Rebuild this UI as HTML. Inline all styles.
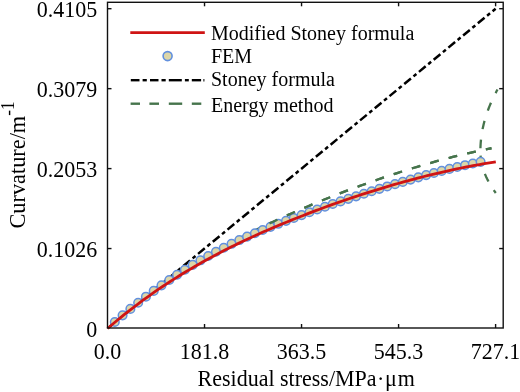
<!DOCTYPE html>
<html><head><meta charset="utf-8"><style>html,body{margin:0;padding:0;background:#fff;width:520px;height:392px;overflow:hidden}svg{display:block}</style></head><body>
<svg width="520" height="392" viewBox="0 0 520 392">
<rect width="520" height="392" fill="#fff"/>
<g fill="none" stroke-linejoin="round">
<line x1="107.5" y1="328.5" x2="495.6" y2="8.7" stroke="#000" stroke-width="2.5" stroke-dasharray="8.7 3.3 3.78 3.3" stroke-dashoffset="-2.88"/>
<polyline points="107.50,328.50 110.73,325.62 113.95,322.78 117.18,319.99 120.41,317.23 123.63,314.51 126.86,311.84 130.09,309.20 133.32,306.59 136.54,304.03 139.77,301.49 143.00,299.00 146.22,296.54 149.45,294.11 152.68,291.72 155.90,289.35 159.13,287.02 162.36,284.73 165.58,282.46 168.81,280.23 172.04,278.04 175.26,275.88 178.49,273.75 181.72,271.64 184.95,269.57 188.17,267.52 191.40,265.49 194.63,263.50 197.85,261.52 201.08,259.57 204.31,257.65 207.53,255.75 210.76,253.87 213.99,252.02 217.21,250.19 220.44,248.38 223.67,246.60 226.89,244.84 230.12,243.10 233.35,241.38 236.58,239.68 239.80,238.00 243.03,236.34 246.26,234.70 249.48,233.07 252.71,231.47 255.94,229.88 259.16,228.31 262.39,226.75 265.62,225.21 268.84,223.69 272.07,222.18 275.30,220.69 278.53,219.21 281.75,217.75 284.98,216.31 288.21,214.88 291.43,213.46 294.66,212.06 297.89,210.66 301.11,209.26 304.34,207.87 307.57,206.49 310.79,205.13 314.02,203.77 317.25,202.44 320.47,201.11 323.70,199.80 326.93,198.49 330.16,197.21 333.38,195.93 336.61,194.66 339.84,193.41 343.06,192.17 346.29,190.94 349.52,189.72 352.74,188.51 355.97,187.32 359.20,186.13 362.42,184.96 365.65,183.80 368.88,182.65 372.11,181.51 375.33,180.39 378.56,179.27 381.79,178.17 385.01,177.07 388.24,175.99 391.47,174.92 394.69,173.87 397.92,172.82 401.15,171.78 404.37,170.76 407.60,169.75 410.83,168.75 414.05,167.77 417.28,166.79 420.51,165.83 423.74,164.88 426.96,163.95 430.19,163.03 433.42,162.12 436.64,161.22 439.87,160.34 443.10,159.47 446.32,158.61 449.55,157.77 452.78,156.95 456.00,156.13 459.23,155.34 462.46,154.56 465.68,153.79 468.91,153.04 472.14,152.30 475.37,151.59 478.59,150.89 481.82,150.20 485.05,149.53 488.27,148.88 491.50,148.25" stroke="#46744C" stroke-width="2.3" stroke-dasharray="8.8 10.3" stroke-dashoffset="-2.8"/>
<polyline points="480.40,151.20 480.41,149.62 480.45,148.04 480.50,146.45 480.58,144.87 480.68,143.29 480.81,141.71 480.95,140.13 481.12,138.54 481.31,136.96 481.53,135.38 481.76,133.80 482.02,132.22 482.30,130.63 482.61,129.05 482.93,127.47 483.28,125.89 483.66,124.31 484.05,122.72 484.47,121.14 484.91,119.56 485.37,117.98 485.85,116.39 486.36,114.81 486.89,113.23 487.44,111.65 488.01,110.07 488.61,108.48 489.23,106.90 489.87,105.32 490.54,103.74 491.22,102.16 491.93,100.57 492.67,98.99 493.42,97.41 494.20,95.83 495.00,94.25 495.82,92.66 496.66,91.08 497.53,89.50" stroke="#46744C" stroke-width="2.3" stroke-dasharray="8.5 10.7" stroke-dashoffset="-3"/>
<polyline points="480.40,151.20 480.41,152.27 480.44,153.34 480.49,154.42 480.56,155.49 480.65,156.56 480.76,157.63 480.90,158.70 481.05,159.77 481.22,160.85 481.41,161.92 481.62,162.99 481.86,164.06 482.11,165.13 482.38,166.21 482.67,167.28 482.99,168.35 483.32,169.42 483.68,170.49 484.05,171.56 484.44,172.64 484.86,173.71 485.29,174.78 485.75,175.85 486.22,176.92 486.72,177.99 487.23,179.07 487.77,180.14 488.33,181.21 488.90,182.28 489.50,183.35 490.11,184.43 490.75,185.50 491.41,186.57 492.09,187.64 492.78,188.71 493.50,189.78 494.24,190.86 495.00,191.93 495.78,193.00" stroke="#46744C" stroke-width="2.3" stroke-dasharray="8.5 10.2" stroke-dashoffset="-4.5"/>
</g>
<g fill="#DCD6A8" stroke="#6290DE" stroke-width="1.5">
<circle cx="114.80" cy="322.03" r="4.3"/>
<circle cx="122.58" cy="315.36" r="4.3"/>
<circle cx="130.37" cy="308.92" r="4.3"/>
<circle cx="138.15" cy="302.70" r="4.3"/>
<circle cx="145.93" cy="296.68" r="4.3"/>
<circle cx="153.72" cy="290.91" r="4.3"/>
<circle cx="161.50" cy="285.34" r="4.3"/>
<circle cx="169.28" cy="279.96" r="4.3"/>
<circle cx="177.06" cy="274.79" r="4.3"/>
<circle cx="184.85" cy="269.78" r="4.3"/>
<circle cx="192.63" cy="264.92" r="4.3"/>
<circle cx="200.41" cy="260.31" r="4.3"/>
<circle cx="208.20" cy="255.98" r="4.3"/>
<circle cx="215.98" cy="251.78" r="4.3"/>
<circle cx="223.76" cy="247.73" r="4.3"/>
<circle cx="231.55" cy="243.81" r="4.3"/>
<circle cx="239.33" cy="240.06" r="4.3"/>
<circle cx="247.11" cy="236.61" r="4.3"/>
<circle cx="254.89" cy="233.26" r="4.3"/>
<circle cx="262.68" cy="230.02" r="4.3"/>
<circle cx="270.46" cy="226.87" r="4.3"/>
<circle cx="278.24" cy="223.81" r="4.3"/>
<circle cx="286.03" cy="220.84" r="4.3"/>
<circle cx="293.81" cy="217.96" r="4.3"/>
<circle cx="301.59" cy="215.12" r="4.3"/>
<circle cx="309.38" cy="212.30" r="4.3"/>
<circle cx="317.16" cy="209.46" r="4.3"/>
<circle cx="324.94" cy="206.70" r="4.3"/>
<circle cx="332.72" cy="204.01" r="4.3"/>
<circle cx="340.51" cy="201.39" r="4.3"/>
<circle cx="348.29" cy="198.84" r="4.3"/>
<circle cx="356.07" cy="196.36" r="4.3"/>
<circle cx="363.86" cy="193.80" r="4.3"/>
<circle cx="371.64" cy="191.28" r="4.3"/>
<circle cx="379.42" cy="188.83" r="4.3"/>
<circle cx="387.21" cy="186.44" r="4.3"/>
<circle cx="394.99" cy="184.13" r="4.3"/>
<circle cx="402.77" cy="181.88" r="4.3"/>
<circle cx="410.55" cy="179.62" r="4.3"/>
<circle cx="418.34" cy="177.33" r="4.3"/>
<circle cx="426.12" cy="175.11" r="4.3"/>
<circle cx="433.90" cy="172.96" r="4.3"/>
<circle cx="441.69" cy="170.90" r="4.3"/>
<circle cx="449.47" cy="168.91" r="4.3"/>
<circle cx="457.25" cy="167.01" r="4.3"/>
<circle cx="465.04" cy="165.19" r="4.3"/>
<circle cx="472.82" cy="163.47" r="4.3"/>
<circle cx="480.60" cy="161.84" r="4.3"/>
</g>
<clipPath id="cg"><rect x="262" y="0" width="250" height="330"/></clipPath>
<polyline points="107.50,328.50 110.73,325.62 113.95,322.78 117.18,319.99 120.41,317.23 123.63,314.51 126.86,311.84 130.09,309.20 133.32,306.59 136.54,304.03 139.77,301.49 143.00,299.00 146.22,296.54 149.45,294.11 152.68,291.72 155.90,289.35 159.13,287.02 162.36,284.73 165.58,282.46 168.81,280.23 172.04,278.04 175.26,275.88 178.49,273.75 181.72,271.64 184.95,269.57 188.17,267.52 191.40,265.49 194.63,263.50 197.85,261.52 201.08,259.57 204.31,257.65 207.53,255.75 210.76,253.87 213.99,252.02 217.21,250.19 220.44,248.38 223.67,246.60 226.89,244.84 230.12,243.10 233.35,241.38 236.58,239.68 239.80,238.00 243.03,236.34 246.26,234.70 249.48,233.07 252.71,231.47 255.94,229.88 259.16,228.31 262.39,226.75 265.62,225.21 268.84,223.69 272.07,222.18 275.30,220.69 278.53,219.21 281.75,217.75 284.98,216.31 288.21,214.88 291.43,213.46 294.66,212.06 297.89,210.66 301.11,209.26 304.34,207.87 307.57,206.49 310.79,205.13 314.02,203.77 317.25,202.44 320.47,201.11 323.70,199.80 326.93,198.49 330.16,197.21 333.38,195.93 336.61,194.66 339.84,193.41 343.06,192.17 346.29,190.94 349.52,189.72 352.74,188.51 355.97,187.32 359.20,186.13 362.42,184.96 365.65,183.80 368.88,182.65 372.11,181.51 375.33,180.39 378.56,179.27 381.79,178.17 385.01,177.07 388.24,175.99 391.47,174.92 394.69,173.87 397.92,172.82 401.15,171.78 404.37,170.76 407.60,169.75 410.83,168.75 414.05,167.77 417.28,166.79 420.51,165.83 423.74,164.88 426.96,163.95 430.19,163.03 433.42,162.12 436.64,161.22 439.87,160.34 443.10,159.47 446.32,158.61 449.55,157.77 452.78,156.95 456.00,156.13 459.23,155.34 462.46,154.56 465.68,153.79 468.91,153.04 472.14,152.30 475.37,151.59 478.59,150.89 481.82,150.20 485.05,149.53 488.27,148.88 491.50,148.25" fill="none" stroke="#46744C" stroke-width="2.3" stroke-dasharray="8.8 10.3" stroke-dashoffset="-2.8" clip-path="url(#cg)"/>
<polyline points="107.50,328.50 110.76,325.70 114.03,322.95 117.29,320.24 120.55,317.57 123.82,314.94 127.08,312.35 130.34,309.80 133.60,307.29 136.87,304.81 140.13,302.37 143.39,299.97 146.66,297.60 149.92,295.27 153.18,292.97 156.45,290.71 159.71,288.47 162.97,286.27 166.23,284.10 169.50,281.97 172.76,279.88 176.02,277.83 179.29,275.79 182.55,273.79 185.81,271.82 189.08,269.87 192.34,267.95 195.60,266.05 198.86,264.19 202.13,262.34 205.39,260.52 208.65,258.73 211.92,256.96 215.18,255.21 218.44,253.48 221.71,251.79 224.97,250.12 228.23,248.46 231.49,246.83 234.76,245.22 238.02,243.63 241.28,242.06 244.55,240.51 247.81,238.98 251.07,237.46 254.34,235.97 257.60,234.49 260.86,233.03 264.13,231.59 267.39,230.16 270.65,228.75 273.91,227.36 277.18,225.98 280.44,224.61 283.70,223.27 286.97,221.94 290.23,220.62 293.49,219.31 296.76,218.03 300.02,216.73 303.28,215.44 306.54,214.17 309.81,212.90 313.07,211.66 316.33,210.42 319.60,209.20 322.86,207.99 326.12,206.79 329.39,205.61 332.65,204.44 335.91,203.28 339.17,202.13 342.44,200.99 345.70,199.87 348.96,198.76 352.23,197.66 355.49,196.57 358.75,195.50 362.02,194.44 365.28,193.38 368.54,192.34 371.81,191.32 375.07,190.30 378.33,189.29 381.59,188.30 384.86,187.32 388.12,186.35 391.38,185.39 394.65,184.45 397.91,183.52 401.17,182.59 404.44,181.69 407.70,180.79 410.96,179.91 414.22,179.03 417.49,178.18 420.75,177.33 424.01,176.50 427.28,175.68 430.54,174.87 433.80,174.08 437.07,173.30 440.33,172.54 443.59,171.79 446.85,171.05 450.12,170.33 453.38,169.62 456.64,168.93 459.91,168.25 463.17,167.59 466.43,166.95 469.70,166.32 472.96,165.71 476.22,165.12 479.48,164.54 482.75,163.98 486.01,163.44 489.27,162.91 492.54,162.41 495.80,161.92" fill="none" stroke="#CF1414" stroke-width="2.8" stroke-linejoin="round"/>
<g stroke="#111" stroke-width="1.4" fill="none">
<rect x="107.5" y="2.3" width="395.70" height="325.70"/>
<line x1="204.53" y1="328.0" x2="204.53" y2="324.0"/>
<line x1="204.53" y1="2.3" x2="204.53" y2="6.3"/>
<line x1="301.55" y1="328.0" x2="301.55" y2="324.0"/>
<line x1="301.55" y1="2.3" x2="301.55" y2="6.3"/>
<line x1="398.58" y1="328.0" x2="398.58" y2="324.0"/>
<line x1="398.58" y1="2.3" x2="398.58" y2="6.3"/>
<line x1="495.60" y1="328.0" x2="495.60" y2="324.0"/>
<line x1="495.60" y1="2.3" x2="495.60" y2="6.3"/>
<line x1="107.5" y1="248.55" x2="111.5" y2="248.55"/>
<line x1="503.2" y1="248.55" x2="499.2" y2="248.55"/>
<line x1="107.5" y1="168.60" x2="111.5" y2="168.60"/>
<line x1="503.2" y1="168.60" x2="499.2" y2="168.60"/>
<line x1="107.5" y1="88.65" x2="111.5" y2="88.65"/>
<line x1="503.2" y1="88.65" x2="499.2" y2="88.65"/>
<line x1="107.5" y1="8.70" x2="111.5" y2="8.70"/>
<line x1="503.2" y1="8.70" x2="499.2" y2="8.70"/>
</g>
<line x1="130.3" y1="32.6" x2="204.8" y2="32.6" stroke="#CF1414" stroke-width="2.6"/>
<circle cx="167.6" cy="56.1" r="4.5" fill="#DCD6A8" stroke="#6290DE" stroke-width="1.6"/>
<line x1="130.8" y1="80.2" x2="139.5" y2="80.2" stroke="#000" stroke-width="2.4"/>
<line x1="142.6" y1="80.2" x2="146.8" y2="80.2" stroke="#000" stroke-width="2.4"/>
<line x1="150" y1="80.2" x2="158.5" y2="80.2" stroke="#000" stroke-width="2.4"/>
<line x1="161.5" y1="80.2" x2="165.7" y2="80.2" stroke="#000" stroke-width="2.4"/>
<line x1="168.8" y1="80.2" x2="181.8" y2="80.2" stroke="#000" stroke-width="2.4"/>
<line x1="184.9" y1="80.2" x2="188.8" y2="80.2" stroke="#000" stroke-width="2.4"/>
<line x1="191.8" y1="80.2" x2="201.1" y2="80.2" stroke="#000" stroke-width="2.4"/>
<line x1="203.4" y1="80.2" x2="204.4" y2="80.2" stroke="#000" stroke-width="2.4"/>
<line x1="130.6" y1="103.7" x2="140.0" y2="103.7" stroke="#46744C" stroke-width="2.4"/>
<line x1="149.4" y1="103.7" x2="159.0" y2="103.7" stroke="#46744C" stroke-width="2.4"/>
<line x1="168.8" y1="103.7" x2="182.2" y2="103.7" stroke="#46744C" stroke-width="2.4"/>
<line x1="191.8" y1="103.7" x2="201.3" y2="103.7" stroke="#46744C" stroke-width="2.4"/>
<g style="font-family:'Liberation Serif',serif" fill="#000">
<text x="211.0" y="39.6" font-size="20">Modified Stoney formula</text>
<text x="211.0" y="62.9" font-size="20">FEM</text>
<text x="211.0" y="85.5" font-size="20">Stoney formula</text>
<text x="211.0" y="111.5" font-size="20">Energy method</text>
<text transform="translate(107.50,359) scale(1,1.07)" font-size="22" text-anchor="middle">0.0</text>
<text transform="translate(204.53,359) scale(1,1.07)" font-size="22" text-anchor="middle">181.8</text>
<text transform="translate(301.55,359) scale(1,1.07)" font-size="22" text-anchor="middle">363.5</text>
<text transform="translate(398.58,359) scale(1,1.07)" font-size="22" text-anchor="middle">545.3</text>
<text transform="translate(495.60,359) scale(1,1.07)" font-size="22" text-anchor="middle">727.1</text>
<text transform="translate(97.2,328.90) scale(1,1.07)" y="7.3" font-size="22" text-anchor="end">0</text>
<text transform="translate(97.2,248.95) scale(1,1.07)" y="7.3" font-size="22" text-anchor="end">0.1026</text>
<text transform="translate(97.2,169.00) scale(1,1.07)" y="7.3" font-size="22" text-anchor="end">0.2053</text>
<text transform="translate(97.2,89.05) scale(1,1.07)" y="7.3" font-size="22" text-anchor="end">0.3079</text>
<text transform="translate(97.2,9.10) scale(1,1.07)" y="7.3" font-size="22" text-anchor="end">0.4105</text>
<text transform="translate(197.6,385.6) scale(1,1.05)" font-size="22">Residual stress/MPa<tspan dx="0.4">·</tspan><tspan dx="0.8">μ</tspan><tspan dx="0.9">m</tspan></text>
<text transform="translate(25.2,228.5) rotate(-90) scale(1,1.05)" font-size="22.3">Curvature/m<tspan font-size="17.2" dy="-10.9">-1</tspan></text>
</g>
</svg>
</body></html>
